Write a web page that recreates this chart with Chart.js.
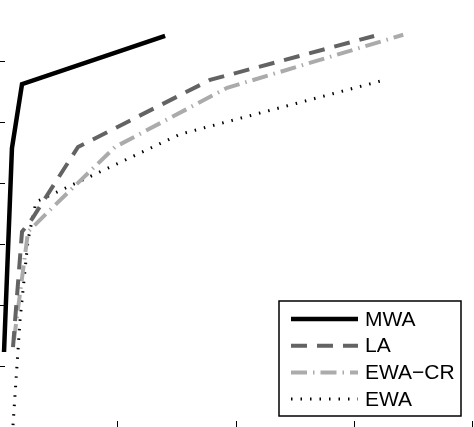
<!DOCTYPE html>
<html>
<head>
<meta charset="utf-8">
<script src="https://cdn.jsdelivr.net/npm/chart.js@4.4.0/dist/chart.umd.min.js"></script>
<style>
  html, body { margin: 0; padding: 0; background: #fff; }
  #wrap { width: 474px; height: 427px; position: relative; }
</style>
</head>
<body>
<div id="wrap"><canvas id="rankChart"></canvas></div>
<script>
// series values (x in tick units, y in tick units)
var seriesNames = ['MWA', 'LA', 'EWA\u2212CR', 'EWA'];
var mwaX = [0.034, 0.101, 0.186, 1.395];
var mwaY = [1.23, 4.57, 5.62, 6.41];
var laX = [0.110, 0.186, 0.270, 0.659, 1.775, 3.161];
var laY = [1.31, 3.20, 3.41, 4.59, 5.69, 6.41];
var ewaCrX = [0.118, 0.237, 0.397, 0.972, 1.919, 3.407];
var ewaCrY = [1.43, 3.20, 3.51, 4.59, 5.56, 6.43];
var ewaX = [0.110, 0.169, 0.237, 0.304, 1.522, 3.271];
var ewaY = [0.03, 1.75, 3.07, 3.69, 4.80, 5.70];
var xTicks = [1, 2, 3, 4];
var yTicks = [1, 2, 3, 4, 5, 6];

function pts(xs, ys) {
    return xs.map(function(x, i) { return { x: x, y: ys[i] }; });
}

// inward tick marks, matlab style
var inwardTicks = {
    id: 'inwardTicks',
    afterDraw: function(chart) {
        var ctx = chart.ctx, area = chart.chartArea;
        var xs = chart.scales.x, ys = chart.scales.y;
        ctx.save();
        ctx.strokeStyle = '#000';
        ctx.lineWidth = 1;
        yTicks.forEach(function(v) {
            var py = Math.round(ys.getPixelForValue(v)) + 0.5;
            ctx.beginPath();
            ctx.moveTo(area.left, py);
            ctx.lineTo(area.left + 5, py);
            ctx.stroke();
        });
        xTicks.forEach(function(v) {
            var px = Math.round(xs.getPixelForValue(v)) - 0.5;
            ctx.beginPath();
            ctx.moveTo(px, area.bottom);
            ctx.lineTo(px, area.bottom - 6);
            ctx.stroke();
        });
        ctx.restore();
    }
};

// boxed legend in the lower right corner
var boxLegend = {
    id: 'boxLegend',
    afterDraw: function(chart) {
        var ctx = chart.ctx, area = chart.chartArea;
        var w = 182, h = 115;
        var left = area.right - 13 - w, top = area.bottom - 11 - h;
        ctx.save();
        ctx.fillStyle = '#fff';
        ctx.fillRect(left, top, w, h);
        ctx.strokeStyle = '#000';
        ctx.lineWidth = 1.5;
        ctx.strokeRect(left, top, w, h);
        chart.data.datasets.forEach(function(ds, i) {
            var y = top + 18 + i * 26.7;
            ctx.beginPath();
            ctx.setLineDash(ds.borderDash || []);
            ctx.lineWidth = ds.borderWidth;
            ctx.strokeStyle = ds.borderColor;
            ctx.lineCap = 'butt';
            ctx.moveTo(left + 12, y);
            ctx.lineTo(left + 79, y);
            ctx.stroke();
            ctx.setLineDash([]);
            ctx.fillStyle = '#000';
            ctx.font = '21px "Liberation Sans", Arial, sans-serif';
            ctx.textBaseline = 'middle';
            ctx.fillText(ds.label, left + 86, y + 1);
        });
        ctx.restore();
    }
};

var chart = new Chart(document.getElementById('rankChart').getContext('2d'), {
    type: 'line',
    data: {
        datasets: [{
            label: seriesNames[0],
            data: pts(mwaX, mwaY),
            borderColor: '#000000',
            borderWidth: 4.5
        }, {
            label: seriesNames[1],
            data: pts(laX, laY),
            borderColor: '#636363',
            borderWidth: 4,
            borderDash: [16, 10]
        }, {
            label: seriesNames[2],
            data: pts(ewaCrX, ewaCrY),
            borderColor: '#ababab',
            borderWidth: 4,
            borderDash: [16, 6, 1.5, 6]
        }, {
            label: seriesNames[3],
            data: pts(ewaX, ewaY),
            borderColor: '#000000',
            borderWidth: 3,
            borderDash: [1.5, 8]
        }]
    },
    options: {
        responsive: true,
        maintainAspectRatio: false,
        animation: false,
        layout: { padding: 0 },
        elements: {
            point: { radius: 0 },
            line: { tension: 0, fill: false, borderCapStyle: 'butt' }
        },
        scales: {
            x: { type: 'linear', min: 0, max: 4.005, display: false },
            y: { type: 'linear', min: 0, max: 7, display: false }
        },
        plugins: {
            legend: { display: false },
            tooltip: { enabled: false }
        }
    },
    plugins: [inwardTicks, boxLegend]
});
</script>
</body>
</html>
